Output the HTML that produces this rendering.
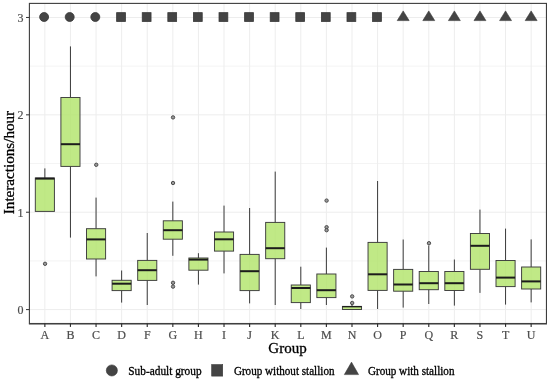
<!DOCTYPE html>
<html><head><meta charset="utf-8"><title>Interactions per hour by group</title>
<style>html,body{margin:0;padding:0;background:#fff}svg{display:block}</style></head>
<body>
<svg width="550" height="380" viewBox="0 0 550 380" style="display:block">
<rect width="550" height="380" fill="#fff"/>
<g><line x1="29.4" x2="546.45" y1="260.91" y2="260.91" stroke="#ededed" stroke-width="0.6"/><line x1="29.4" x2="546.45" y1="163.53" y2="163.53" stroke="#ededed" stroke-width="0.6"/><line x1="29.4" x2="546.45" y1="66.15" y2="66.15" stroke="#ededed" stroke-width="0.6"/><line x1="29.4" x2="546.45" y1="309.60" y2="309.60" stroke="#ededed" stroke-width="1.0"/><line x1="29.4" x2="546.45" y1="212.22" y2="212.22" stroke="#ededed" stroke-width="1.0"/><line x1="29.4" x2="546.45" y1="114.84" y2="114.84" stroke="#ededed" stroke-width="1.0"/><line x1="29.4" x2="546.45" y1="17.46" y2="17.46" stroke="#ededed" stroke-width="1.0"/><line x1="44.86" x2="44.86" y1="3.4" y2="323.5" stroke="#ededed" stroke-width="1.0"/><line x1="70.45" x2="70.45" y1="3.4" y2="323.5" stroke="#ededed" stroke-width="1.0"/><line x1="96.05" x2="96.05" y1="3.4" y2="323.5" stroke="#ededed" stroke-width="1.0"/><line x1="121.64" x2="121.64" y1="3.4" y2="323.5" stroke="#ededed" stroke-width="1.0"/><line x1="147.24" x2="147.24" y1="3.4" y2="323.5" stroke="#ededed" stroke-width="1.0"/><line x1="172.83" x2="172.83" y1="3.4" y2="323.5" stroke="#ededed" stroke-width="1.0"/><line x1="198.42" x2="198.42" y1="3.4" y2="323.5" stroke="#ededed" stroke-width="1.0"/><line x1="224.02" x2="224.02" y1="3.4" y2="323.5" stroke="#ededed" stroke-width="1.0"/><line x1="249.61" x2="249.61" y1="3.4" y2="323.5" stroke="#ededed" stroke-width="1.0"/><line x1="275.21" x2="275.21" y1="3.4" y2="323.5" stroke="#ededed" stroke-width="1.0"/><line x1="300.80" x2="300.80" y1="3.4" y2="323.5" stroke="#ededed" stroke-width="1.0"/><line x1="326.39" x2="326.39" y1="3.4" y2="323.5" stroke="#ededed" stroke-width="1.0"/><line x1="351.99" x2="351.99" y1="3.4" y2="323.5" stroke="#ededed" stroke-width="1.0"/><line x1="377.58" x2="377.58" y1="3.4" y2="323.5" stroke="#ededed" stroke-width="1.0"/><line x1="403.18" x2="403.18" y1="3.4" y2="323.5" stroke="#ededed" stroke-width="1.0"/><line x1="428.77" x2="428.77" y1="3.4" y2="323.5" stroke="#ededed" stroke-width="1.0"/><line x1="454.36" x2="454.36" y1="3.4" y2="323.5" stroke="#ededed" stroke-width="1.0"/><line x1="479.96" x2="479.96" y1="3.4" y2="323.5" stroke="#ededed" stroke-width="1.0"/><line x1="505.55" x2="505.55" y1="3.4" y2="323.5" stroke="#ededed" stroke-width="1.0"/><line x1="531.15" x2="531.15" y1="3.4" y2="323.5" stroke="#ededed" stroke-width="1.0"/></g>
<g><circle cx="45.06" cy="263.80" r="1.7" fill="#999" stroke="#484848" stroke-width="0.95"/><line x1="44.86" x2="44.86" y1="168.4" y2="178.0" stroke="#3a3a3a" stroke-width="1"/><rect x="35.31" y="178.0" width="19.10" height="33.40" fill="#b0e368" fill-opacity="0.8" stroke="#3c3c3c" stroke-width="0.95"/><line x1="35.31" x2="54.41" y1="178.6" y2="178.6" stroke="#1c1c1c" stroke-width="2"/><line x1="70.45" x2="70.45" y1="46.4" y2="97.5" stroke="#3a3a3a" stroke-width="1"/><line x1="70.45" x2="70.45" y1="166.4" y2="237.6" stroke="#3a3a3a" stroke-width="1"/><rect x="60.90" y="97.5" width="19.10" height="68.90" fill="#b0e368" fill-opacity="0.8" stroke="#3c3c3c" stroke-width="0.95"/><line x1="60.90" x2="80.00" y1="144.2" y2="144.2" stroke="#1c1c1c" stroke-width="2"/><circle cx="96.25" cy="164.80" r="1.7" fill="#999" stroke="#484848" stroke-width="0.95"/><line x1="96.05" x2="96.05" y1="197.6" y2="228.7" stroke="#3a3a3a" stroke-width="1"/><line x1="96.05" x2="96.05" y1="259.0" y2="276.4" stroke="#3a3a3a" stroke-width="1"/><rect x="86.50" y="228.7" width="19.10" height="30.30" fill="#b0e368" fill-opacity="0.8" stroke="#3c3c3c" stroke-width="0.95"/><line x1="86.50" x2="105.60" y1="239.4" y2="239.4" stroke="#1c1c1c" stroke-width="2"/><line x1="121.64" x2="121.64" y1="270.5" y2="280.3" stroke="#3a3a3a" stroke-width="1"/><line x1="121.64" x2="121.64" y1="290.6" y2="302.6" stroke="#3a3a3a" stroke-width="1"/><rect x="112.09" y="280.3" width="19.10" height="10.30" fill="#b0e368" fill-opacity="0.8" stroke="#3c3c3c" stroke-width="0.95"/><line x1="112.09" x2="131.19" y1="283.7" y2="283.7" stroke="#1c1c1c" stroke-width="2"/><line x1="147.24" x2="147.24" y1="233.0" y2="260.4" stroke="#3a3a3a" stroke-width="1"/><line x1="147.24" x2="147.24" y1="280.4" y2="305.0" stroke="#3a3a3a" stroke-width="1"/><rect x="137.69" y="260.4" width="19.10" height="20.00" fill="#b0e368" fill-opacity="0.8" stroke="#3c3c3c" stroke-width="0.95"/><line x1="137.69" x2="156.79" y1="270.2" y2="270.2" stroke="#1c1c1c" stroke-width="2"/><circle cx="173.03" cy="117.40" r="1.7" fill="#999" stroke="#484848" stroke-width="0.95"/><circle cx="173.03" cy="183.00" r="1.7" fill="#999" stroke="#484848" stroke-width="0.95"/><circle cx="173.03" cy="282.80" r="1.7" fill="#999" stroke="#484848" stroke-width="0.95"/><circle cx="173.03" cy="286.60" r="1.7" fill="#999" stroke="#484848" stroke-width="0.95"/><line x1="172.83" x2="172.83" y1="201.6" y2="220.8" stroke="#3a3a3a" stroke-width="1"/><line x1="172.83" x2="172.83" y1="239.2" y2="255.8" stroke="#3a3a3a" stroke-width="1"/><rect x="163.28" y="220.8" width="19.10" height="18.40" fill="#b0e368" fill-opacity="0.8" stroke="#3c3c3c" stroke-width="0.95"/><line x1="163.28" x2="182.38" y1="230.2" y2="230.2" stroke="#1c1c1c" stroke-width="2"/><line x1="198.42" x2="198.42" y1="253.2" y2="258.0" stroke="#3a3a3a" stroke-width="1"/><line x1="198.42" x2="198.42" y1="270.2" y2="284.6" stroke="#3a3a3a" stroke-width="1"/><rect x="188.87" y="258.0" width="19.10" height="12.20" fill="#b0e368" fill-opacity="0.8" stroke="#3c3c3c" stroke-width="0.95"/><line x1="188.87" x2="207.97" y1="259.6" y2="259.6" stroke="#1c1c1c" stroke-width="2"/><line x1="224.02" x2="224.02" y1="205.6" y2="232.0" stroke="#3a3a3a" stroke-width="1"/><line x1="224.02" x2="224.02" y1="251.1" y2="273.4" stroke="#3a3a3a" stroke-width="1"/><rect x="214.47" y="232.0" width="19.10" height="19.10" fill="#b0e368" fill-opacity="0.8" stroke="#3c3c3c" stroke-width="0.95"/><line x1="214.47" x2="233.57" y1="239.3" y2="239.3" stroke="#1c1c1c" stroke-width="2"/><line x1="249.61" x2="249.61" y1="208.0" y2="254.4" stroke="#3a3a3a" stroke-width="1"/><line x1="249.61" x2="249.61" y1="290.6" y2="303.4" stroke="#3a3a3a" stroke-width="1"/><rect x="240.06" y="254.4" width="19.10" height="36.20" fill="#b0e368" fill-opacity="0.8" stroke="#3c3c3c" stroke-width="0.95"/><line x1="240.06" x2="259.16" y1="271.2" y2="271.2" stroke="#1c1c1c" stroke-width="2"/><line x1="275.21" x2="275.21" y1="171.6" y2="222.4" stroke="#3a3a3a" stroke-width="1"/><line x1="275.21" x2="275.21" y1="258.7" y2="305.0" stroke="#3a3a3a" stroke-width="1"/><rect x="265.66" y="222.4" width="19.10" height="36.30" fill="#b0e368" fill-opacity="0.8" stroke="#3c3c3c" stroke-width="0.95"/><line x1="265.66" x2="284.76" y1="248.2" y2="248.2" stroke="#1c1c1c" stroke-width="2"/><line x1="300.80" x2="300.80" y1="266.7" y2="285.0" stroke="#3a3a3a" stroke-width="1"/><line x1="300.80" x2="300.80" y1="302.6" y2="309.0" stroke="#3a3a3a" stroke-width="1"/><rect x="291.25" y="285.0" width="19.10" height="17.60" fill="#b0e368" fill-opacity="0.8" stroke="#3c3c3c" stroke-width="0.95"/><line x1="291.25" x2="310.35" y1="288.0" y2="288.0" stroke="#1c1c1c" stroke-width="2"/><circle cx="326.59" cy="200.60" r="1.7" fill="#999" stroke="#484848" stroke-width="0.95"/><circle cx="326.59" cy="227.20" r="1.7" fill="#999" stroke="#484848" stroke-width="0.95"/><circle cx="326.59" cy="230.20" r="1.7" fill="#999" stroke="#484848" stroke-width="0.95"/><line x1="326.39" x2="326.39" y1="247.6" y2="274.0" stroke="#3a3a3a" stroke-width="1"/><line x1="326.39" x2="326.39" y1="297.6" y2="305.0" stroke="#3a3a3a" stroke-width="1"/><rect x="316.84" y="274.0" width="19.10" height="23.60" fill="#b0e368" fill-opacity="0.8" stroke="#3c3c3c" stroke-width="0.95"/><line x1="316.84" x2="335.94" y1="290.2" y2="290.2" stroke="#1c1c1c" stroke-width="2"/><circle cx="352.19" cy="296.40" r="1.7" fill="#999" stroke="#484848" stroke-width="0.95"/><circle cx="352.19" cy="303.00" r="1.7" fill="#999" stroke="#484848" stroke-width="0.95"/><line x1="351.99" x2="351.99" y1="304.5" y2="306.4" stroke="#3a3a3a" stroke-width="1"/><rect x="342.44" y="306.4" width="19.10" height="3.10" fill="#b0e368" fill-opacity="0.8" stroke="#3c3c3c" stroke-width="0.95"/><line x1="342.44" x2="361.54" y1="306.7" y2="306.7" stroke="#1c1c1c" stroke-width="1.3"/><line x1="377.58" x2="377.58" y1="181.0" y2="242.4" stroke="#3a3a3a" stroke-width="1"/><line x1="377.58" x2="377.58" y1="290.4" y2="309.0" stroke="#3a3a3a" stroke-width="1"/><rect x="368.03" y="242.4" width="19.10" height="48.00" fill="#b0e368" fill-opacity="0.8" stroke="#3c3c3c" stroke-width="0.95"/><line x1="368.03" x2="387.13" y1="274.3" y2="274.3" stroke="#1c1c1c" stroke-width="2"/><line x1="403.18" x2="403.18" y1="239.5" y2="269.4" stroke="#3a3a3a" stroke-width="1"/><line x1="403.18" x2="403.18" y1="291.2" y2="307.6" stroke="#3a3a3a" stroke-width="1"/><rect x="393.63" y="269.4" width="19.10" height="21.80" fill="#b0e368" fill-opacity="0.8" stroke="#3c3c3c" stroke-width="0.95"/><line x1="393.63" x2="412.73" y1="284.5" y2="284.5" stroke="#1c1c1c" stroke-width="2"/><circle cx="428.97" cy="243.20" r="1.7" fill="#999" stroke="#484848" stroke-width="0.95"/><line x1="428.77" x2="428.77" y1="245.5" y2="271.5" stroke="#3a3a3a" stroke-width="1"/><line x1="428.77" x2="428.77" y1="289.7" y2="304.0" stroke="#3a3a3a" stroke-width="1"/><rect x="419.22" y="271.5" width="19.10" height="18.20" fill="#b0e368" fill-opacity="0.8" stroke="#3c3c3c" stroke-width="0.95"/><line x1="419.22" x2="438.32" y1="283.2" y2="283.2" stroke="#1c1c1c" stroke-width="2"/><line x1="454.36" x2="454.36" y1="259.5" y2="271.5" stroke="#3a3a3a" stroke-width="1"/><line x1="454.36" x2="454.36" y1="290.5" y2="305.6" stroke="#3a3a3a" stroke-width="1"/><rect x="444.81" y="271.5" width="19.10" height="19.00" fill="#b0e368" fill-opacity="0.8" stroke="#3c3c3c" stroke-width="0.95"/><line x1="444.81" x2="463.91" y1="283.2" y2="283.2" stroke="#1c1c1c" stroke-width="2"/><line x1="479.96" x2="479.96" y1="209.6" y2="233.5" stroke="#3a3a3a" stroke-width="1"/><line x1="479.96" x2="479.96" y1="269.3" y2="292.9" stroke="#3a3a3a" stroke-width="1"/><rect x="470.41" y="233.5" width="19.10" height="35.80" fill="#b0e368" fill-opacity="0.8" stroke="#3c3c3c" stroke-width="0.95"/><line x1="470.41" x2="489.51" y1="245.8" y2="245.8" stroke="#1c1c1c" stroke-width="2"/><line x1="505.55" x2="505.55" y1="228.6" y2="260.5" stroke="#3a3a3a" stroke-width="1"/><line x1="505.55" x2="505.55" y1="286.6" y2="304.6" stroke="#3a3a3a" stroke-width="1"/><rect x="496.00" y="260.5" width="19.10" height="26.10" fill="#b0e368" fill-opacity="0.8" stroke="#3c3c3c" stroke-width="0.95"/><line x1="496.00" x2="515.10" y1="277.6" y2="277.6" stroke="#1c1c1c" stroke-width="2"/><line x1="531.15" x2="531.15" y1="239.4" y2="267.0" stroke="#3a3a3a" stroke-width="1"/><line x1="531.15" x2="531.15" y1="289.0" y2="302.4" stroke="#3a3a3a" stroke-width="1"/><rect x="521.60" y="267.0" width="19.10" height="22.00" fill="#b0e368" fill-opacity="0.8" stroke="#3c3c3c" stroke-width="0.95"/><line x1="521.60" x2="540.70" y1="281.4" y2="281.4" stroke="#1c1c1c" stroke-width="2"/></g>
<g><circle cx="44.11" cy="17.0" r="4.5" fill="#444" stroke="#383838" stroke-width="0.8"/><circle cx="69.70" cy="17.0" r="4.5" fill="#444" stroke="#383838" stroke-width="0.8"/><circle cx="95.30" cy="17.0" r="4.5" fill="#444" stroke="#383838" stroke-width="0.8"/><rect x="116.64" y="12.65" width="8.8" height="8.8" fill="#444" stroke="#383838" stroke-width="0.8"/><rect x="142.24" y="12.65" width="8.8" height="8.8" fill="#444" stroke="#383838" stroke-width="0.8"/><rect x="167.83" y="12.65" width="8.8" height="8.8" fill="#444" stroke="#383838" stroke-width="0.8"/><rect x="193.42" y="12.65" width="8.8" height="8.8" fill="#444" stroke="#383838" stroke-width="0.8"/><rect x="219.02" y="12.65" width="8.8" height="8.8" fill="#444" stroke="#383838" stroke-width="0.8"/><rect x="244.61" y="12.65" width="8.8" height="8.8" fill="#444" stroke="#383838" stroke-width="0.8"/><rect x="270.21" y="12.65" width="8.8" height="8.8" fill="#444" stroke="#383838" stroke-width="0.8"/><rect x="295.80" y="12.65" width="8.8" height="8.8" fill="#444" stroke="#383838" stroke-width="0.8"/><rect x="321.39" y="12.65" width="8.8" height="8.8" fill="#444" stroke="#383838" stroke-width="0.8"/><rect x="346.99" y="12.65" width="8.8" height="8.8" fill="#444" stroke="#383838" stroke-width="0.8"/><rect x="372.58" y="12.65" width="8.8" height="8.8" fill="#444" stroke="#383838" stroke-width="0.8"/><polygon points="403.18,10.90 397.23,20.60 409.13,20.60" fill="#444" stroke="#383838" stroke-width="0.6" stroke-linejoin="miter"/><polygon points="428.77,10.90 422.82,20.60 434.72,20.60" fill="#444" stroke="#383838" stroke-width="0.6" stroke-linejoin="miter"/><polygon points="454.36,10.90 448.41,20.60 460.31,20.60" fill="#444" stroke="#383838" stroke-width="0.6" stroke-linejoin="miter"/><polygon points="479.96,10.90 474.01,20.60 485.91,20.60" fill="#444" stroke="#383838" stroke-width="0.6" stroke-linejoin="miter"/><polygon points="505.55,10.90 499.60,20.60 511.50,20.60" fill="#444" stroke="#383838" stroke-width="0.6" stroke-linejoin="miter"/><polygon points="531.15,10.90 525.20,20.60 537.10,20.60" fill="#444" stroke="#383838" stroke-width="0.6" stroke-linejoin="miter"/></g>
<rect x="29.4" y="3.4" width="517.0500000000001" height="320.1" fill="none" stroke="#3d3d3d" stroke-width="1.1"/>
<line x1="28.9" x2="546.95" y1="324.1" y2="324.1" stroke="#4a4a4a" stroke-width="0.9"/>
<g><line x1="26" x2="29.4" y1="309.60" y2="309.60" stroke="#333" stroke-width="1"/><line x1="26" x2="29.4" y1="212.22" y2="212.22" stroke="#333" stroke-width="1"/><line x1="26" x2="29.4" y1="114.84" y2="114.84" stroke="#333" stroke-width="1"/><line x1="26" x2="29.4" y1="17.46" y2="17.46" stroke="#333" stroke-width="1"/><line x1="44.86" x2="44.86" y1="323.5" y2="326.9" stroke="#2e2e2e" stroke-width="1.15"/><line x1="70.45" x2="70.45" y1="323.5" y2="326.9" stroke="#2e2e2e" stroke-width="1.15"/><line x1="96.05" x2="96.05" y1="323.5" y2="326.9" stroke="#2e2e2e" stroke-width="1.15"/><line x1="121.64" x2="121.64" y1="323.5" y2="326.9" stroke="#2e2e2e" stroke-width="1.15"/><line x1="147.24" x2="147.24" y1="323.5" y2="326.9" stroke="#2e2e2e" stroke-width="1.15"/><line x1="172.83" x2="172.83" y1="323.5" y2="326.9" stroke="#2e2e2e" stroke-width="1.15"/><line x1="198.42" x2="198.42" y1="323.5" y2="326.9" stroke="#2e2e2e" stroke-width="1.15"/><line x1="224.02" x2="224.02" y1="323.5" y2="326.9" stroke="#2e2e2e" stroke-width="1.15"/><line x1="249.61" x2="249.61" y1="323.5" y2="326.9" stroke="#2e2e2e" stroke-width="1.15"/><line x1="275.21" x2="275.21" y1="323.5" y2="326.9" stroke="#2e2e2e" stroke-width="1.15"/><line x1="300.80" x2="300.80" y1="323.5" y2="326.9" stroke="#2e2e2e" stroke-width="1.15"/><line x1="326.39" x2="326.39" y1="323.5" y2="326.9" stroke="#2e2e2e" stroke-width="1.15"/><line x1="351.99" x2="351.99" y1="323.5" y2="326.9" stroke="#2e2e2e" stroke-width="1.15"/><line x1="377.58" x2="377.58" y1="323.5" y2="326.9" stroke="#2e2e2e" stroke-width="1.15"/><line x1="403.18" x2="403.18" y1="323.5" y2="326.9" stroke="#2e2e2e" stroke-width="1.15"/><line x1="428.77" x2="428.77" y1="323.5" y2="326.9" stroke="#2e2e2e" stroke-width="1.15"/><line x1="454.36" x2="454.36" y1="323.5" y2="326.9" stroke="#2e2e2e" stroke-width="1.15"/><line x1="479.96" x2="479.96" y1="323.5" y2="326.9" stroke="#2e2e2e" stroke-width="1.15"/><line x1="505.55" x2="505.55" y1="323.5" y2="326.9" stroke="#2e2e2e" stroke-width="1.15"/><line x1="531.15" x2="531.15" y1="323.5" y2="326.9" stroke="#2e2e2e" stroke-width="1.15"/></g>
<g font-family="'Liberation Serif', 'Times New Roman', serif" font-size="12" fill="#4d4d4d" stroke="#4d4d4d" stroke-width="0.2"><text x="23.6" y="313.90" text-anchor="end">0</text><text x="23.6" y="216.52" text-anchor="end">1</text><text x="23.6" y="119.14" text-anchor="end">2</text><text x="23.6" y="21.76" text-anchor="end">3</text><text x="44.86" y="338.8" text-anchor="middle">A</text><text x="70.45" y="338.8" text-anchor="middle">B</text><text x="96.05" y="338.8" text-anchor="middle">C</text><text x="121.64" y="338.8" text-anchor="middle">D</text><text x="147.24" y="338.8" text-anchor="middle">F</text><text x="172.83" y="338.8" text-anchor="middle">G</text><text x="198.42" y="338.8" text-anchor="middle">H</text><text x="224.02" y="338.8" text-anchor="middle">I</text><text x="249.61" y="338.8" text-anchor="middle">J</text><text x="275.21" y="338.8" text-anchor="middle">K</text><text x="300.80" y="338.8" text-anchor="middle">L</text><text x="326.39" y="338.8" text-anchor="middle">M</text><text x="351.99" y="338.8" text-anchor="middle">N</text><text x="377.58" y="338.8" text-anchor="middle">O</text><text x="403.18" y="338.8" text-anchor="middle">P</text><text x="428.77" y="338.8" text-anchor="middle">Q</text><text x="454.36" y="338.8" text-anchor="middle">R</text><text x="479.96" y="338.8" text-anchor="middle">S</text><text x="505.55" y="338.8" text-anchor="middle">T</text><text x="531.15" y="338.8" text-anchor="middle">U</text></g><g font-family="'Liberation Serif', 'Times New Roman', serif" fill="#000" stroke="#000" stroke-width="0.3"><text x="287.5" y="352.8" font-size="15" text-anchor="middle">Group</text><text transform="translate(14.2,214.2) rotate(-90)" font-size="15" textLength="103.3" lengthAdjust="spacingAndGlyphs">Interactions/hour</text><text x="128.3" y="374.9" font-size="11.5" textLength="73.3" lengthAdjust="spacingAndGlyphs">Sub-adult group</text><text x="233.9" y="374.9" font-size="11.5" textLength="100.6" lengthAdjust="spacingAndGlyphs">Group without stallion</text><text x="367.9" y="374.9" font-size="11.5" textLength="86.6" lengthAdjust="spacingAndGlyphs">Group with stallion</text></g>
<g><circle cx="111.85" cy="370.45" r="5.55" fill="#444" stroke="#383838" stroke-width="0.6"/><rect x="211.7" y="364.6" width="11.0" height="11.5" fill="#444" stroke="#383838" stroke-width="0.6"/><polygon points="351.5,362.1 344.3,374.6 358.6,374.6" fill="#444" stroke="#383838" stroke-width="0.5"/></g>
</svg>
</body></html>
